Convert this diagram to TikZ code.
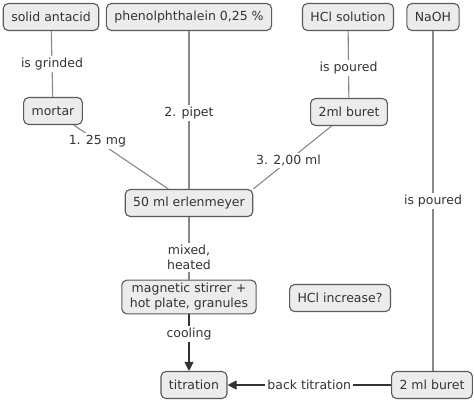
\documentclass[tikz,border=0pt]{standalone}
\usepackage{fontspec}
\setmainfont{DejaVu Sans}
\usetikzlibrary{arrows.meta}
\definecolor{boxfill}{HTML}{ECECEC}
\definecolor{boxline}{HTML}{5A5A5A}
\definecolor{linkc}{HTML}{888888}
\definecolor{txt}{HTML}{333333}

\begin{document}
\begin{tikzpicture}[x=1pt, y=-1pt, >={Triangle[length=9pt, width=9pt]},
    box/.style={draw=boxline, fill=boxfill, rounded corners=5pt, line width=1.1pt,
      minimum height=27pt, inner xsep=8pt, text=txt, align=center,
      font=\fontsize{12.5}{15}\selectfont},
    lbl/.style={fill=white, text=txt, inner sep=2pt, align=center,
      font=\fontsize{12.5}{15}\selectfont},
    link/.style={draw=linkc, line width=1.1pt},
    flow/.style={draw=txt, line width=1.1pt, ->}]

    \useasboundingbox (0,0) rectangle (474,416);

    \node[box] (0) at (51, 17) {solid antacid};
    \node[box] (1) at (189, 17) {phenolphthalein 0,25 \%};
    \node[box] (2) at (348, 17) {HCl solution};
    \node[box] (3) at (433, 17) {NaOH};
    \node[box] (4) at (53, 111) {mortar};
    \node[box] (5) at (349, 112) {2ml buret};
    \node[box] (6) at (189, 203) {50 ml erlenmeyer};
    \node[box] (7) at (189, 297) {magnetic stirrer +\\hot plate, granules};
    \node[box] (8) at (340, 298) {HCl increase?};
    \node[box] (9) at (194, 385) {titration};
    \node[box] (10) at (432, 385) {2 ml buret};

% Edges
    \draw[link] (0) -- (4) node[lbl, midway] {is grinded};
    \draw[link] (1) -- (6) node[lbl, pos=0.52] {2. pipet};
    \draw[link] (2) -- (5) node[lbl, pos=0.55] {is poured};
    \draw[link] (3.south) -- (3.south |- 10.north) node[lbl, midway] {is poured};
    \draw[link] (4) -- (6) node[lbl, pos=0.25] {1. 25 mg};
    \draw[link] (5) -- (6.north east) node[lbl, pos=0.55] {3. 2,00 ml};
    \draw[link] (6) -- (7) node[lbl, pos=0.65] {mixed,\\heated};
    \draw[flow] (7.south) -- (7.south |- 9.north) node[lbl, pos=0.35] {cooling};
    \draw[flow] (10) -- (9) node[lbl, midway] {back titration};

\end{tikzpicture}
\end{document}
